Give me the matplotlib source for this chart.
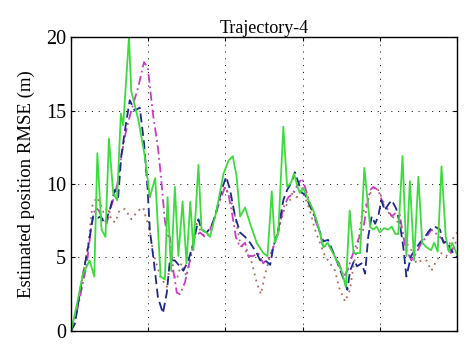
import matplotlib.pyplot as plt

# green solid
x_green = [0, 1.5, 3.1, 4.8, 6.0, 6.8, 7.9, 8.9, 9.8, 10.9, 11.9, 12.9, 13.5, 15.0, 15.6,
           17.4, 19.1, 20.4, 21.8, 23.2, 24.3, 25.0, 25.9, 26.9, 27.8, 28.9, 29.9, 30.9,
           31.7, 33.0, 33.8, 35.1, 36.0, 37.7, 39.5, 40.8, 41.9, 42.9, 43.8, 45.1, 46.4,
           48.1, 49.8, 50.9, 52.0, 52.8, 53.7, 55.0, 56.0, 57.0, 57.8, 58.7, 59.3, 60.2,
           61.5, 62.8, 64.1, 65.4, 66.5, 67.5, 68.8, 70.1, 71.2, 72.2, 73.2, 74.9, 76.0,
           76.9, 77.5, 78.3, 79.2, 80.0, 81.1, 82.2, 83.1, 84.0, 84.8, 85.9, 86.9, 87.8,
           88.9, 90.0, 91.0, 92.1, 93.3, 94.1, 95.0, 96.0, 97.1, 97.9, 98.8, 100]
y_green = [0, 1.8, 3.9, 4.8, 3.7, 12.1, 6.9, 6.4, 13.1, 9.4, 8.9, 14.8, 14.0, 20.0, 16.3,
           14.4, 11.9, 9.1, 10.4, 3.7, 3.5, 9.1, 4.1, 9.8, 5.1, 8.8, 4.6, 8.8,
           5.5, 11.3, 6.9, 6.7, 6.4, 8.2, 10.7, 11.6, 11.9, 10.5, 7.8, 8.4, 7.3,
           6.0, 5.3, 5.1, 9.5, 6.0, 6.7, 13.9, 9.8, 10.1, 10.7, 9.8, 9.4, 9.7,
           8.9, 8.2, 7.1, 5.7, 6.0, 5.5, 4.8, 4.1, 3.0, 8.2, 5.3, 5.3, 11.1,
           8.7, 7.1, 6.9, 7.1, 6.7, 7.0, 6.9, 7.1, 6.6, 6.6, 11.9, 5.1, 10.2,
           4.8, 10.5, 6.0, 5.7, 5.5, 6.0, 5.4, 11.2, 6.4, 5.4, 6.0, 5.2]

# blue dashed
x_blue = [0, 1.0, 2.7, 4.4, 5.7, 7.0, 7.7, 8.7, 10.0, 11.3, 12.2, 13.0, 14.1, 15.2, 16.5,
          17.8, 18.9, 19.8, 20.4, 21.5, 22.5, 23.8, 24.8, 25.6, 26.9, 29.1, 30.4, 31.7,
          33.0, 33.8, 35.1, 36.4, 37.7, 39.0, 40.2, 41.2, 42.5, 43.8, 45.1, 46.4, 48.1,
          49.0, 50.3, 51.6, 52.4, 53.7, 55.0, 56.0, 57.1, 58.0, 58.9, 59.8, 60.6, 61.9,
          63.2, 64.5, 65.4, 66.6, 67.7, 68.8, 70.1, 71.6, 72.3, 73.4, 74.1, 75.3, 76.2,
          77.0, 77.9, 78.8, 79.6, 80.4, 81.3, 82.2, 83.1, 84.3, 85.2, 86.1, 86.9, 88.1,
          89.1, 90.4, 91.7, 93.0, 94.3, 95.6, 96.5, 97.4, 98.5, 100]
y_blue = [0, 0.5, 3.3, 5.7, 7.8, 7.7, 7.8, 7.3, 8.2, 9.6, 9.1, 11.9, 13.9, 15.7, 15.0,
          15.2, 12.8, 9.8, 6.9, 4.6, 2.3, 1.2, 2.6, 4.8, 4.8, 4.1, 4.8, 6.0,
          7.6, 6.9, 6.7, 7.1, 8.2, 9.6, 10.5, 9.6, 7.8, 6.7, 6.4, 6.0, 5.3,
          4.8, 4.8, 4.5, 5.7, 6.9, 8.9, 9.6, 10.1, 10.8, 10.1, 9.4, 9.3, 8.5,
          7.8, 6.7, 6.1, 6.2, 5.5, 4.8, 3.9, 2.8, 4.1, 4.8, 4.4, 4.6, 3.9,
          6.4, 7.8, 7.3, 7.8, 8.9, 8.2, 8.6, 8.9, 8.3, 7.3, 5.7, 3.7, 5.1,
          5.5, 6.0, 6.4, 6.9, 7.1, 6.9, 6.0, 6.1, 5.5, 5.0]

# magenta dash-dot
x_magenta = [0, 1.0, 2.3, 4.1, 5.3, 6.3, 7.2, 8.2, 9.2, 10.1, 11.0, 12.0, 13.0, 14.3,
             15.6, 17.4, 18.9, 19.9, 21.2, 22.5, 23.3, 24.3, 25.0, 25.6, 26.5, 27.4,
             28.2, 29.5, 30.8, 32.1, 33.4, 34.7, 36.0, 37.3, 38.6, 39.9, 40.7, 41.6,
             42.7, 43.8, 45.1, 45.9, 47.2, 48.5, 49.8, 51.6, 52.4, 53.7, 55.0, 56.3,
             57.3, 58.4, 59.8, 60.6, 61.9, 63.2, 64.5, 65.3, 66.6, 68.0, 69.4, 70.7,
             71.6, 73.1, 74.4, 75.7, 76.6, 77.5, 78.3, 79.6, 80.9, 82.0, 83.1, 84.0,
             85.2, 86.1, 86.9, 88.2, 89.5, 90.8, 92.1, 93.4, 94.7, 96.0, 97.4, 98.4, 100]
y_magenta = [0, 0.7, 2.3, 4.6, 7.3, 8.4, 8.2, 7.6, 7.3, 8.2, 9.0, 10.0, 11.9, 13.7,
             15.0, 16.6, 18.3, 17.9, 14.8, 12.5, 10.5, 7.5, 6.5, 6.4, 4.1, 2.6,
             2.5, 3.3, 4.8, 6.4, 6.7, 6.4, 6.9, 7.8, 8.9, 9.8, 9.4, 8.2,
             6.4, 5.7, 6.0, 5.1, 5.1, 5.3, 4.6, 5.1, 5.7, 6.7, 8.4, 9.1,
             9.3, 9.8, 10.4, 9.8, 8.7, 7.6, 6.7, 5.7, 5.9, 5.3, 4.6, 3.7,
             4.1, 5.3, 6.2, 6.9, 8.4, 9.6, 9.8, 9.6, 8.6, 8.3, 7.8, 8.0,
             7.9, 6.4, 5.5, 4.8, 5.3, 6.0, 6.4, 6.9, 6.6, 6.3, 5.8, 5.3, 6.2]

# brown dotted
x_brown = [0, 1.0, 2.5, 4.5, 5.5, 6.6, 7.5, 8.5, 9.5, 10.5, 11.5, 12.5, 14.0, 15.6,
           17.4, 18.7, 19.3, 20.3, 21.3, 22.2, 23.1, 24.8, 25.6, 26.5, 27.4, 28.6,
           29.9, 30.8, 31.7, 32.5, 33.4, 34.7, 36.0, 37.3, 38.6, 39.9, 41.2, 42.5,
           43.8, 45.1, 46.4, 48.1, 49.2, 50.3, 51.6, 52.8, 54.1, 55.4, 56.7, 57.6,
           58.5, 59.8, 60.6, 61.9, 63.2, 64.5, 65.8, 67.1, 68.4, 69.4, 71.0, 72.3,
           73.1, 74.4, 75.3, 76.6, 77.9, 79.2, 80.5, 81.8, 83.1, 84.3, 85.6, 86.9,
           88.2, 89.5, 90.8, 92.1, 93.4, 94.7, 96.0, 97.3, 98.2, 100]
y_brown = [0, 1.0, 3.0, 6.0, 8.5, 9.1, 8.7, 8.0, 8.4, 7.5, 7.4, 8.2, 8.3, 7.6,
           8.2, 8.4, 7.8, 7.0, 5.3, 4.5, 3.7, 3.0, 4.6, 3.8, 3.5, 4.6,
           3.7, 4.8, 6.0, 7.3, 6.9, 6.4, 6.6, 7.8, 9.1, 9.8, 9.1, 7.8,
           6.0, 5.5, 5.1, 3.3, 2.5, 3.9, 5.1, 6.0, 7.3, 8.4, 8.9, 9.6,
           9.1, 9.8, 9.1, 8.2, 6.9, 6.0, 5.1, 4.6, 4.1, 3.0, 2.0, 2.8,
           4.3, 6.0, 7.8, 8.7, 9.6, 9.8, 9.1, 8.2, 7.8, 7.6, 6.9, 6.0,
           5.5, 4.6, 4.8, 4.8, 4.1, 4.8, 5.3, 5.1, 6.0, 6.7]

X_TICKS = [0, 20, 40, 60, 80, 100]
Y_TICKS = [0, 5, 10, 15, 20]

plt.rcParams["font.family"] = ["Liberation Serif", "DejaVu Serif"]

fig = plt.figure(figsize=(4.74, 3.57), dpi=100)
ax = fig.add_axes([0.150, 0.073, 0.814, 0.823])

ax.plot(x_brown, y_brown, color="#b06a5a", linestyle=(0, (1, 2.5)), linewidth=1.3)
ax.plot(x_magenta, y_magenta, color="#c83cc8", linestyle=(0, (5, 2, 1, 2)), linewidth=1.3)
ax.plot(x_blue, y_blue, color="#1c2a8c", linestyle=(0, (5, 2.5)), linewidth=1.3)
ax.plot(x_green, y_green, color="#3ddc3d", linestyle="-", linewidth=1.3)

ax.set_xlim(0, 100)
ax.set_ylim(0, 20)
ax.set_xticks(X_TICKS)
ax.set_yticks(Y_TICKS)
ax.set_xticklabels([])
ax.tick_params(direction="in", top=True, right=True, length=3, labelsize=14.5)
ax.grid(True, color="black", linestyle=(0, (1, 6)), linewidth=0.7)
for sp in ax.spines.values():
    sp.set_linewidth(1.0)

ax.set_title("Trajectory-4", fontsize=13, pad=3)
ax.set_ylabel("Estimated position RMSE (m)", fontsize=13.5, labelpad=8)

fig.savefig("out.png", dpi=100)
